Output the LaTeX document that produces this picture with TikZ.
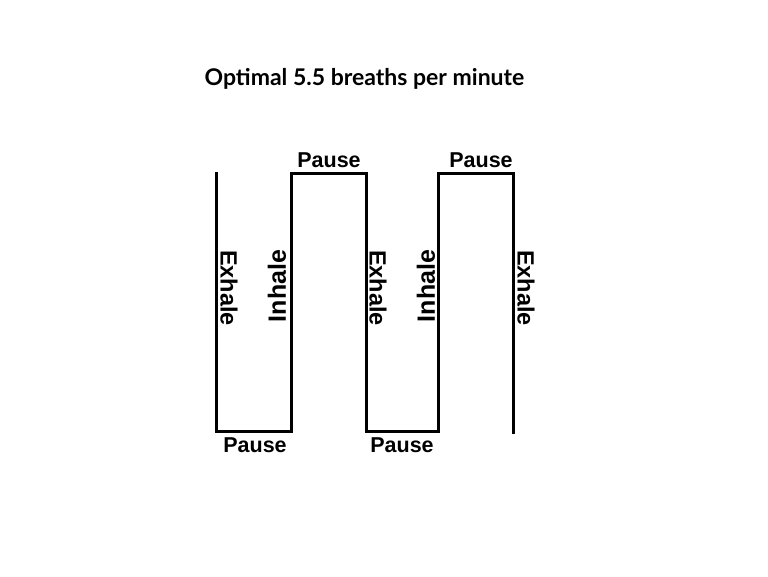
\documentclass[tikz,border=0pt]{standalone}
\usepackage{fontspec}
\setmainfont{Liberation Sans}
\newfontfamily\titlefont{Lato}
\begin{document}
\begin{tikzpicture}[x=1pt,y=-1pt,
  wave/.style={line width=3pt,line join=miter,black},
  lbl/.style={font=\fontsize{21.5}{24}\selectfont\bfseries,inner sep=0pt},
  elbl/.style={font=\fontsize{23.5}{26}\selectfont\bfseries,inner sep=0pt,rotate=-90},
  ilbl/.style={font=\fontsize{25}{28}\selectfont\bfseries,inner sep=0pt,rotate=90}]
\useasboundingbox (0,0) rectangle (768,576);
\node[font=\titlefont\fontsize{23}{27}\selectfont\bfseries,inner sep=0pt] (title) at (364.5,79) {Optimal 5.5 breaths per minute};
\coordinate (p0) at (216,172);
\coordinate (p1) at (216,431);
\coordinate (p2) at (291,431);
\coordinate (p3) at (291,173);
\coordinate (p4) at (366,173);
\coordinate (p5) at (366,431);
\coordinate (p6) at (438,431);
\coordinate (p7) at (438,173);
\coordinate (p8) at (513,173);
\coordinate (p9) at (513,434);
\draw[wave] (p0) -- (p1) -- (p2) -- (p3) -- (p4) -- (p5) -- (p6) -- (p7) -- (p8) -- (p9);
\node[lbl] (pt1) at (329,160) {Pause};
\node[lbl] (pt2) at (481,160) {Pause};
\node[lbl] (pb1) at (255,445) {Pause};
\node[lbl] (pb2) at (402,445) {Pause};
\node[elbl] (e1) at (229,288) {Exhale};
\node[ilbl] (i1) at (277,286) {Inhale};
\node[elbl] (e2) at (378,288) {Exhale};
\node[ilbl] (i2) at (426,286) {Inhale};
\node[elbl] (e3) at (526,288) {Exhale};
\end{tikzpicture}
\end{document}
